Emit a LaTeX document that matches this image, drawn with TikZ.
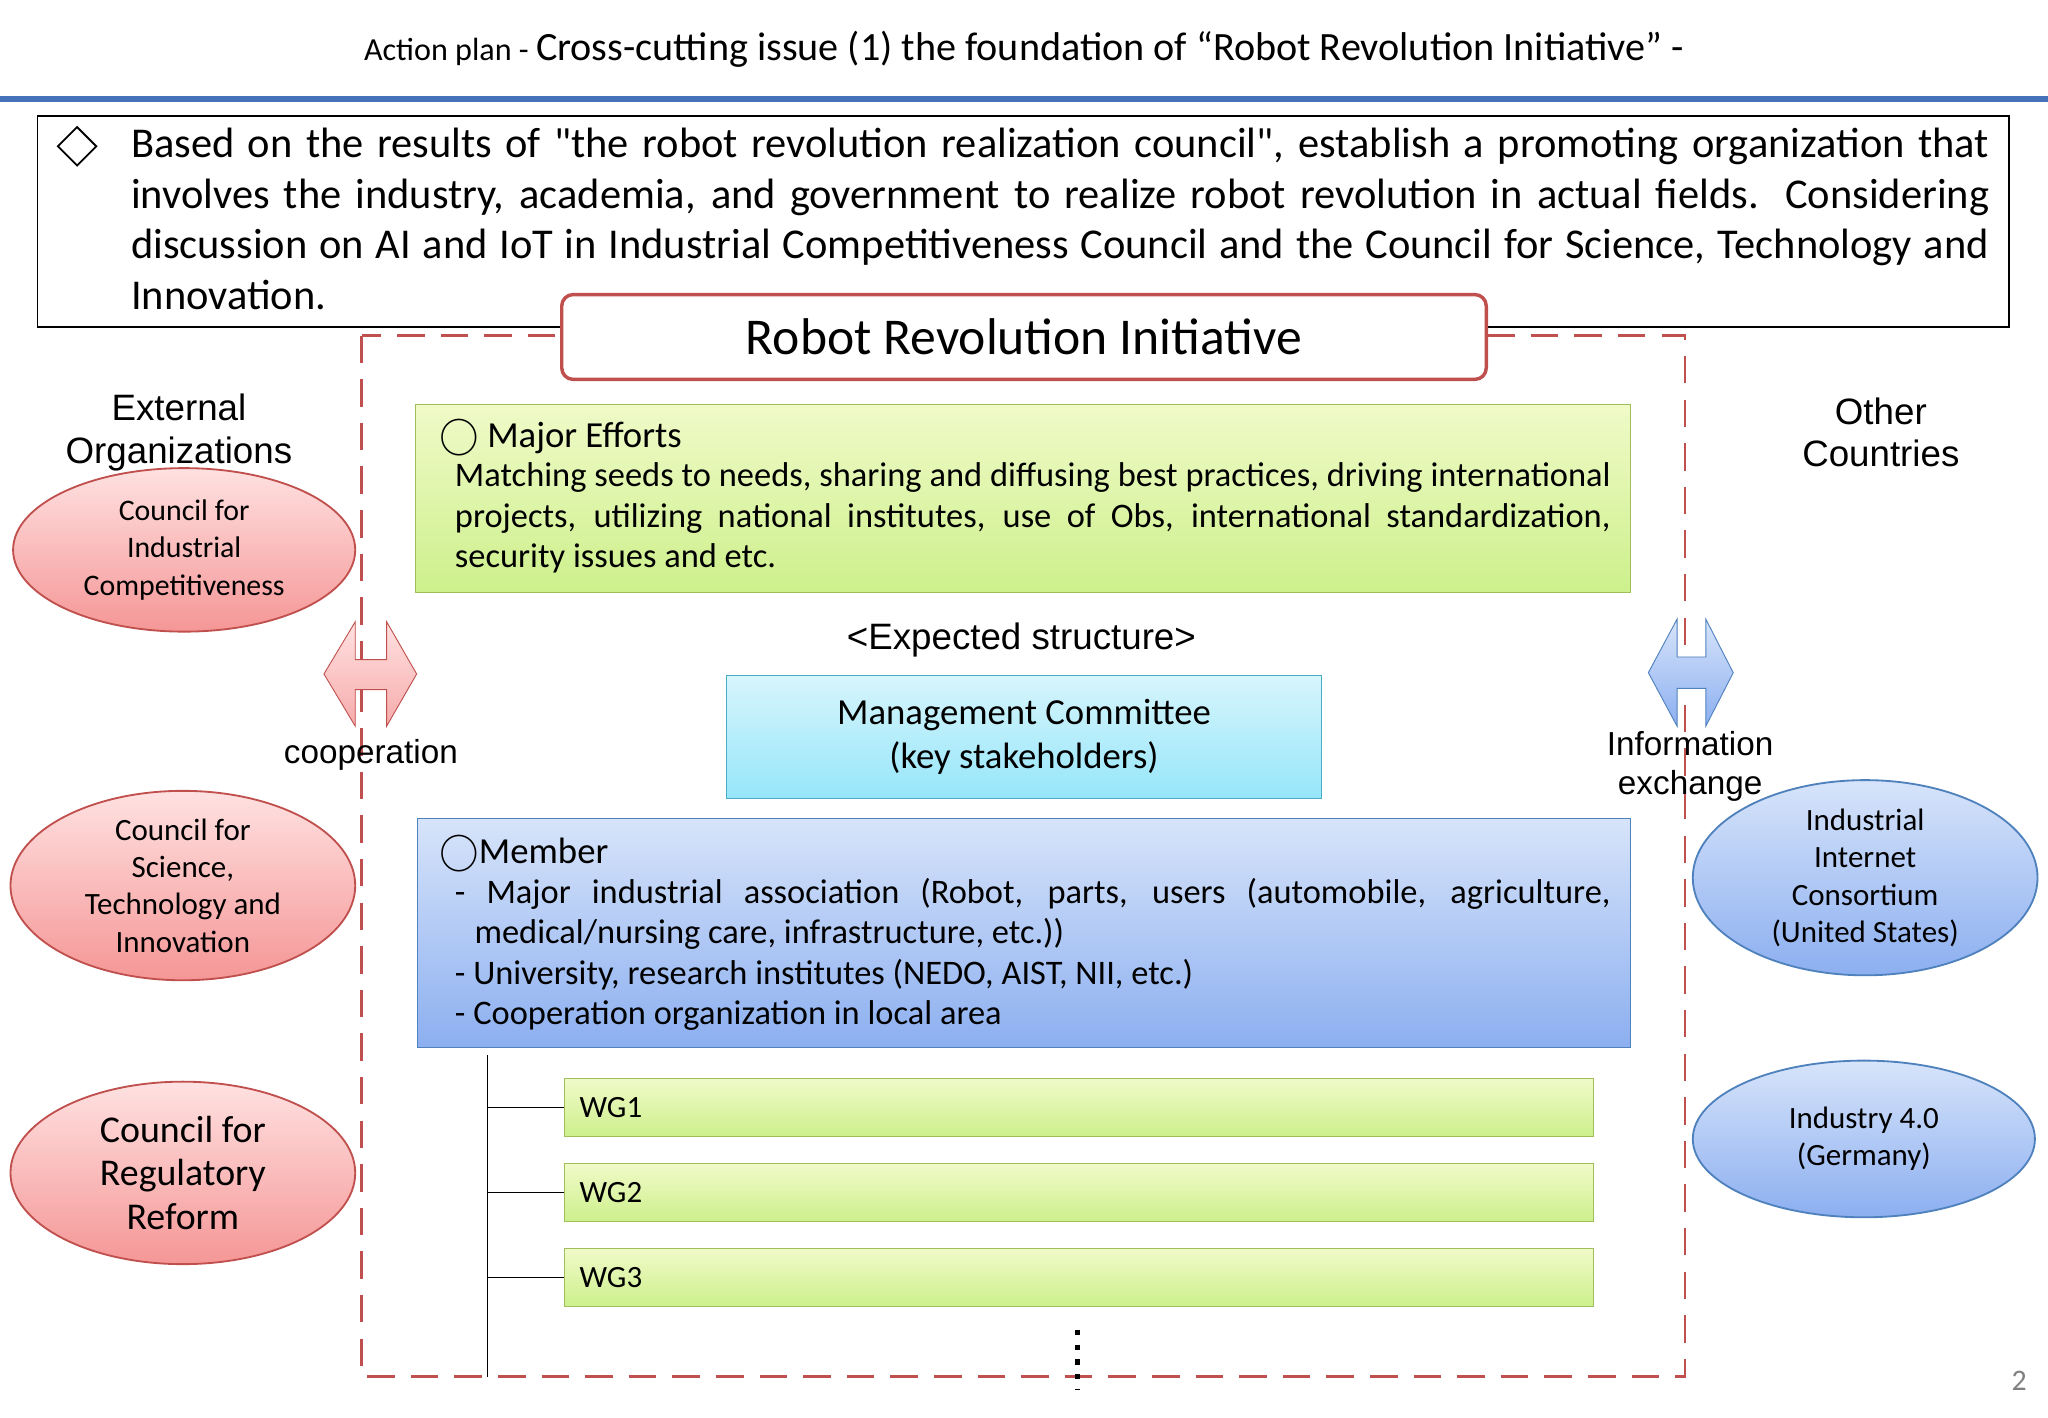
\documentclass[tikz,border=0pt]{standalone}
\usepackage{fontspec}
\setmainfont{Carlito}
\newfontfamily\arialfont{Liberation Sans}
\usetikzlibrary{positioning,calc,shapes.geometric}

\definecolor{barblue}{RGB}{70,114,186}
\definecolor{rrired}{RGB}{192,80,77}
\definecolor{greentop}{RGB}{240,250,200}
\definecolor{greenbot}{RGB}{205,240,140}
\definecolor{greenline}{RGB}{160,190,90}
\definecolor{cyantop}{RGB}{215,245,252}
\definecolor{cyanbot}{RGB}{150,230,250}
\definecolor{cyanline}{RGB}{75,172,198}
\definecolor{bluetop}{RGB}{215,228,250}
\definecolor{bluebot}{RGB}{140,175,240}
\definecolor{blueline}{RGB}{79,129,189}
\definecolor{redtop}{RGB}{255,225,225}
\definecolor{redbot}{RGB}{245,150,150}

\newcommand{\nohyph}{\hyphenpenalty=10000\relax\exhyphenpenalty=10000\relax}

\tikzset{
  greenbox/.style={draw=greenline,top color=greentop,bottom color=greenbot},
  blueell/.style={draw=blueline,thick,top color=bluetop,bottom color=bluebot},
  redell/.style={draw=rrired,thick,top color=redtop,bottom color=redbot},
  sidelabel/.style={font=\arialfont\fontsize{16}{18.5}\selectfont,align=center},
  elltext/.style={font=\fontsize{13}{16.3}\selectfont,align=center},
  bodytext/.style={anchor=north west,inner sep=0pt,text width=17.7cm,align=justify,
    font=\fontsize{15}{17.6}\selectfont},
  wgbox/.style={greenbox,minimum width=15.76cm,minimum height=0.88cm,anchor=west,
    font=\fontsize{13.5}{15}\selectfont,text width=15.3cm,align=left}
}

\begin{document}
\begin{tikzpicture}[x=0.02cm,y=-0.02cm]
  \useasboundingbox (0,0) rectangle (1568,1085);

  % heading
  \node (title) at (784,38) {\fontsize{14}{16}\selectfont Action plan - \fontsize{17.5}{20}\selectfont Cross-cutting issue (1) the foundation of “Robot Revolution Initiative” -};
  \draw[barblue,line width=2.5pt] (0,76) -- (1568,76);

  \node[draw,thick,minimum width=30.2cm,minimum height=3.24cm,anchor=north west] (intro) at (28,88) {};
  \node[draw,diamond,inner sep=0pt,minimum size=0.6cm,thick] (dia) at (59,112) {};
  \node[anchor=north west,text width=28.46cm,align=justify,font=\fontsize{18.5}{22}\selectfont,inner sep=0pt] (introtext) at (100,98)
    {Based on the results of \textquotedbl the robot revolution realization council\textquotedbl, establish a promoting organization that involves the industry, academia, and government to realize robot revolution in actual fields. Considering discussion on AI and IoT in Industrial Competitiveness Council and the Council for Science, Technology and Innovation.};

  % initiative frame
  \draw[rrired,dashed,line width=1.2pt,dash pattern=on 12pt off 7pt] (277,257) rectangle (1290,1054);
  \node[draw=rrired,line width=1.5pt,fill=white,rounded corners=5pt,minimum width=14.16cm,minimum height=1.3cm,
    font=\fontsize{22.5}{26}\selectfont] (rri) at (784,258) {Robot Revolution Initiative};

  \node[greenbox,minimum width=18.6cm,minimum height=2.88cm,anchor=north west] (efforts) at (318,309) {};
  \node[anchor=north west,inner sep=0pt,font=\fontsize{16}{18}\selectfont] (efftitle) at (336,321) {$\bigcirc$ Major Efforts};
  \node[bodytext] (efftext) at (348,354)
    {Matching seeds to needs, sharing and diffusing best practices, driving \mbox{international} projects, utilizing national institutes, use of Obs, international \mbox{standardization}, \mbox{security} issues and etc.};

  \node[font=\arialfont\fontsize{16}{18}\selectfont] (expected) at (782,490) {<Expected structure>};

  \node[draw=cyanline,top color=cyantop,bottom color=cyanbot,minimum width=9.12cm,minimum height=1.88cm,
    align=center,font=\fontsize{16}{19}\selectfont] (mgmt) at (784,564) {Management Committee\\(key stakeholders)};

  \node[draw=blueline,top color=bluetop,bottom color=bluebot,minimum width=18.58cm,minimum height=3.52cm,anchor=north west] (member) at (319,626) {};
  \node[anchor=north west,inner sep=0pt,font=\fontsize{16}{18}\selectfont] (memtitle) at (336,640) {$\bigcirc$Member};
  \node[bodytext] (memtext) at (348,672)
    {\nohyph\hangindent=0.3cm\hangafter=1 - Major industrial association (Robot, parts, users (automobile, agriculture, medical/nursing care, infrastructure, etc.))\par
     - University, research institutes (NEDO, AIST, NII, etc.)\par
     - Cooperation organization in local area};

  % working groups
  \coordinate (trunk) at (373,808);
  \coordinate (trunkend) at (373,1054);
  \draw (trunk) -- (trunkend);
  \foreach \y/\n in {848/1,913/2,978/3} {
    \node[wgbox] (wg\n) at (432,\y) {WG\n};
    \draw (373,\y) -- (wg\n.west);
  }
  \coordinate (dotstop) at (825,1018);
  \coordinate (dotsbot) at (825,1064);
  \draw[line width=2.2pt,dash pattern=on 2.2pt off 4.3pt] (dotstop) -- (dotsbot);

  % left side
  \node[sidelabel] (extorg) at (137,331) {External\\Organizations};
  \node[redell,ellipse,minimum width=5.24cm,minimum height=2.2cm,elltext] (cic) at (141,421) {Council for\\Industrial\\Competitiveness};
  \node[redell,ellipse,minimum width=5.28cm,minimum height=2.28cm,elltext,inner sep=0pt,font=\fontsize{13.5}{16.3}\selectfont] (cst) at (140,678) {Council for\\Science,\\Technology and\\Innovation};
  \node[redell,ellipse,minimum width=5.28cm,minimum height=2.28cm,align=center,font=\fontsize{16.5}{19}\selectfont] (crr) at (140,898) {Council for\\Regulatory\\Reform};
  \draw[rrired,top color=redtop,bottom color=redbot!80] (248,516) -- (272,476) -- (272,505) -- (296,505) -- (296,476) -- (319,516)
    -- (296,556) -- (296,528) -- (272,528) -- (272,556) -- cycle;
  \node[font=\arialfont\fontsize{14.5}{16}\selectfont] (coop) at (284,578) {cooperation};

  % right side
  \node[sidelabel] (other) at (1440,331) {Other\\Countries};
  \draw[blueline,top color=bluetop,bottom color=bluebot] (1262,515) -- (1284,474) -- (1284,503) -- (1306,503) -- (1306,474) -- (1327,515)
    -- (1306,556) -- (1306,527) -- (1284,527) -- (1284,556) -- cycle;
  \node[font=\arialfont\fontsize{14.5}{17}\selectfont,align=center] (info) at (1294,587) {Information\\exchange};
  \node[blueell,ellipse,minimum width=5.28cm,minimum height=2.56cm,elltext,inner sep=0pt,font=\fontsize{13.5}{16.3}\selectfont] (iic) at (1428,672) {Industrial\\Internet\\Consortium\\(United States)};
  \node[blueell,ellipse,minimum width=5.24cm,minimum height=2.4cm,elltext,font=\fontsize{13.5}{16.3}\selectfont] (ind) at (1427,872) {Industry 4.0\\(Germany)};

  \node[gray,font=\fontsize{13}{14}\selectfont] (page) at (1546,1057) {2};
\end{tikzpicture}
\end{document}
